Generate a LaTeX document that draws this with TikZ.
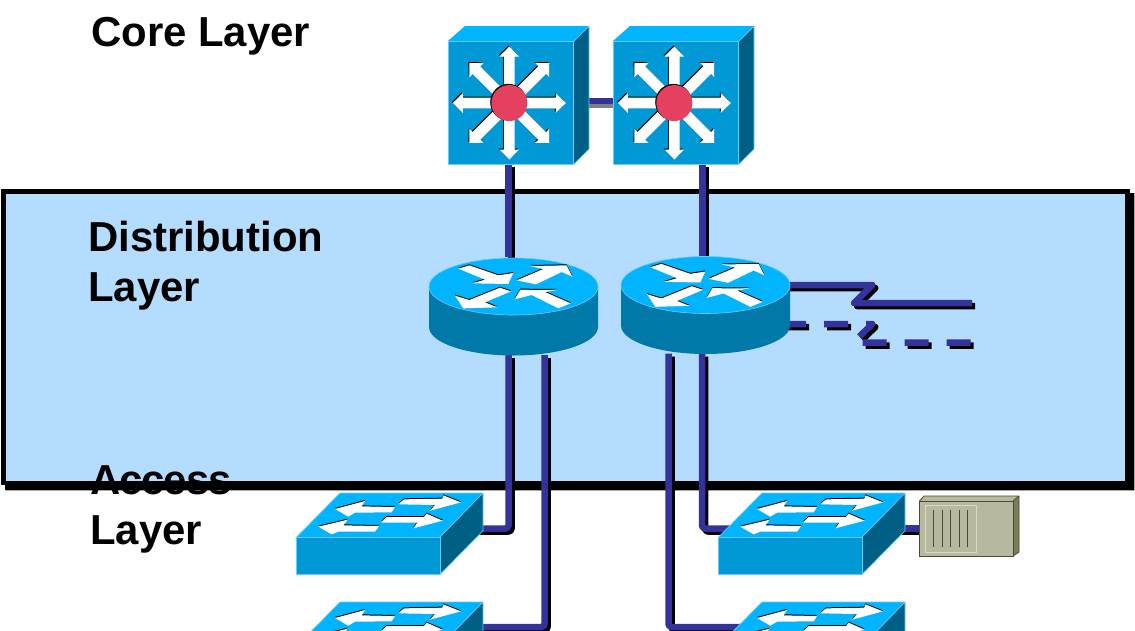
\documentclass[tikz,border=0pt]{standalone}
\usepackage{fontspec}
\setmainfont{Liberation Sans}
\definecolor{devtop}{HTML}{00B4FF}
\definecolor{devfront}{HTML}{0099D6}
\definecolor{devside}{HTML}{005F85}
\definecolor{devbody}{HTML}{0078A8}
\definecolor{devedge}{HTML}{66CCFF}
\definecolor{bandfill}{HTML}{B4DCFF}
\definecolor{linkblue}{HTML}{333399}
\definecolor{corered}{HTML}{E64060}
\definecolor{srvfront}{HTML}{B8B8A0}
\definecolor{srvside}{HTML}{7C7C58}
\definecolor{srvedge}{HTML}{4A4A30}
\definecolor{srvpanel}{HTML}{D8D8C8}
\tikzset{
  x=1pt,y=-1pt,
  linkbase/.style={line width=6.5pt,line join=round},
  dashlink/.style={dash pattern=on 24pt off 18pt,dash phase=3pt},
  bentlink/.style={rounded corners=3pt},
  layerlabel/.style={font=\fontsize{41.9}{50}\selectfont\bfseries,text=black,anchor=base west,inner sep=0pt,align=left},
  devbox/.style={minimum width=#1,inner sep=0pt,draw=none},
  faceedge/.style={draw=devedge,line width=0.7pt,line join=round},
}
% connector with a black drop shadow
\newcommand{\linkpath}[2]{%
  \draw[linkbase,#1,draw=black,transform canvas={xshift=3pt,yshift=-3pt}] #2;
  \draw[linkbase,#1,draw=linkblue] #2;}
% white arrow polygon with a thin black shadow above it
\newcommand{\shadedpoly}[1]{%
  \fill[black,transform canvas={yshift=1pt}] #1;
  \fill[white] #1;}
% core switch
\newcommand{\coreicon}[1]{%
\begin{scope}[shift={(#1,41)}]
  \fill[devtop] (0,0) -- (17,-15) -- (141,-15) -- (126,0) -- cycle;
  \fill[devside] (126,0) -- (141,-15) -- (141,108) -- (126,123) -- cycle;
  \filldraw[fill=devfront,faceedge] (0,0) rectangle (125.6,123);
  \draw[faceedge] (126,0) -- (141,-15) -- (141,108) -- (126,123);
  \begin{scope}[shift={(61.3,62)}]
    \foreach \a in {0,45,...,315}{
      \fill[black] [shift={(-0.9,-0.9)},rotate=\a] (-5.4,-14) -- (-5.4,-46.5) -- (-9.8,-46.5) -- (0,-56.5) -- (9.8,-46.5) -- (5.4,-46.5) -- (5.4,-14) -- cycle;
    }
    \foreach \a in {0,45,...,315}{
      \fill[white] [rotate=\a] (-5.4,-14) -- (-5.4,-46.5) -- (-9.8,-46.5) -- (0,-56.5) -- (9.8,-46.5) -- (5.4,-46.5) -- (5.4,-14) -- cycle;
    }
    \fill[black] (-0.8,-0.8) circle (18.3);
    \fill[corered] (0,0) circle (18);
  \end{scope}
\end{scope}}
% router
\newcommand{\routericon}[2]{%
\begin{scope}[shift={(513.5+#1,286.5+#2)}]
  \fill[devbody] (-84.5,0) -- (-84.5,40.5) arc[start angle=180,end angle=0,x radius=84.5,y radius=28.5] -- (84.5,0) -- cycle;
  \filldraw[fill=devtop,draw=devedge,line width=0.6pt] (0,0) ellipse[x radius=84.5,y radius=28.5];
  \begin{scope}[shift={(-103.5,-46.5)},x=0.3333pt,y=-0.3333pt]
    \shadedpoly{(145,86) -- (178,76) -- (265,106) -- (310,99) -- (295,132) -- (187,130) -- (225,119) -- cycle}
    \shadedpoly{(320,121) -- (400,87) -- (360,78) -- (470,76) -- (487,110) -- (455,96) -- (378,133) -- cycle}
    \shadedpoly{(270,143) -- (178,180) -- (135,167) -- (160,205) -- (262,202) -- (225,187) -- (303,154) -- cycle}
    \shadedpoly{(314,178) -- (331,149) -- (442,150) -- (405,156) -- (482,190) -- (445,205) -- (365,165) -- cycle}
  \end{scope}
\end{scope}}
% layer-2 switch
\newcommand{\switchicon}[2]{%
\begin{scope}[shift={(296.7+#1,537+#2)}]
  \fill[devtop] (0,0) -- (43.3,-44) -- (186.3,-44) -- (143.3,0) -- cycle;
  \fill[devside] (143.3,0) -- (186.3,-44) -- (186.3,-6.3) -- (143.3,37.5) -- cycle;
  \filldraw[fill=devfront,faceedge] (0,0) rectangle (143.3,37.5);
  \draw[faceedge] (143.3,0) -- (186.3,-44) -- (186.3,-6.3) -- (143.3,37.5);
  \draw[faceedge] (0,0) -- (43.3,-44) -- (186.3,-44);
  \begin{scope}[shift={(-16.7,-67)},x=0.3333pt,y=-0.3333pt]
    \shadedpoly{(165,117) -- (255,93) -- (245,109) -- (345,111) -- (335,127) -- (225,128) -- (205,140) -- cycle}
    \shadedpoly{(358,100) -- (372,88) -- (487,86) -- (490,76) -- (543,97) -- (450,122) -- (465,105) -- (358,103) -- cycle}
    \shadedpoly{(115,170) -- (203,149) -- (190,166) -- (298,168) -- (285,185) -- (175,185) -- (155,193) -- cycle}
    \shadedpoly{(305,155) -- (320,141) -- (432,141) -- (440,131) -- (488,152) -- (400,175) -- (412,158) -- (305,158) -- cycle}
  \end{scope}
\end{scope}}
\begin{document}
\begin{tikzpicture}[x=1pt,y=-1pt]
\clip (0,0) rectangle (1135,630);
\fill[white] (0,0) rectangle (1135,630);
% band
\fill[black!35] (6,193) rectangle (1134.7,490.7);
\fill[black] (5,193) rectangle (1134,490);
\fill[black] (1,189) rectangle (1130,485);
\fill[bandfill] (6,193.7) rectangle (1125,481);
% invisible device nodes
\node[devbox=126pt,minimum height=123pt] (core1) at (508.5,102.5) {};
\node[devbox=126pt,minimum height=123pt] (core2) at (676,102.5) {};
\node[devbox=169pt,minimum height=98pt] (dist1) at (513.5,306) {};
\node[devbox=169pt,minimum height=97pt] (dist2) at (705.5,305) {};
\node[devbox=186pt,minimum height=70pt] (acc1) at (390,528.5) {};
\node[devbox=186pt,minimum height=70pt] (acc2) at (390,627) {};
\node[devbox=186pt,minimum height=70pt] (acc3) at (812,528.5) {};
\node[devbox=186pt,minimum height=70pt] (acc4) at (812,627) {};
\node[devbox=100pt,minimum height=56pt] (srv) at (969,528.5) {};
\coordinate (wanA) at (972,303);
\coordinate (wanB) at (972,342.7);
% links
\draw[draw=gray,line width=4pt] ([yshift=-3.5pt]core1.east) -- ([yshift=-3.5pt]core2.west);
\draw[draw=linkblue,line width=6pt] ([yshift=1.5pt]core1.east) -- ([yshift=1.5pt]core2.west);
\linkpath{}{(core1.south) -- ([xshift=-5pt]dist1.north)}
\linkpath{}{([xshift=26.5pt]core2.south) -- ([xshift=-3pt]dist2.north)}
\linkpath{bentlink}{([xshift=-5pt]dist1.south) -- ([xshift=-5pt]dist1.south |- acc1.east) -- (acc1.center)}
\linkpath{bentlink}{([xshift=31pt]dist1.south) -- ([xshift=31pt]dist1.south |- acc2.east) -- (acc2.center)}
\linkpath{bentlink}{([xshift=-3.5pt]dist2.south) -- ([xshift=-3.5pt]dist2.south |- acc3.west) -- (acc3.center)}
\linkpath{bentlink}{([xshift=-37pt]dist2.south) -- ([xshift=-37pt]dist2.south |- acc4.west) -- (acc4.center)}
\linkpath{}{(acc3.center) -- (srv.center)}
\linkpath{}{([yshift=20pt,xshift=-5pt]dist2.east) -- ++(87,0) -- ++(-18,18) -- (wanA)}
\linkpath{dashlink}{([yshift=-19pt,xshift=-5pt]dist2.east) -- ++(87,0) -- ++(-19,18.7) -- (wanB)}
% devices
\coreicon{448}
\coreicon{613}
\routericon{0}{0}
\routericon{192}{-1.5}
\switchicon{0}{0}
\switchicon{0}{109}
\switchicon{422}{0}
\switchicon{422}{109}
% server
\begin{scope}
  \fill[srvside] (1013,501) -- (1019,496) -- (1019,552) -- (1013,556) -- cycle;
  \fill[srvfront] (919.5,501) -- (924,496) -- (1019,496) -- (1013,501) -- cycle;
  \filldraw[fill=srvfront,draw=srvedge,line width=0.8pt] (919.5,501) rectangle (1013,556);
  \draw[srvedge,line width=0.8pt,line join=round] (919.5,501) -- (924,496) -- (1019,496) -- (1019,552) -- (1013,556) (1019,496) -- (1013,501);
  \draw[srvpanel,line width=0.8pt] (925,505) rectangle (976,552);
  \foreach \xx in {933,942,950,959,967}{
    \draw[srvedge,line width=0.7pt] (\xx,510) -- (\xx,547);
  }
\end{scope}
% labels
\node[layerlabel] (lblcore) at (91,46) {Core Layer};
\node[layerlabel] (lbldist) at (88,251) {Distribution};
\node[layerlabel] (lbldist2) at (88,301) {Layer};
\node[layerlabel] (lblacc) at (90,494) {\addfontfeature{LetterSpace=-2.5}Access};
\node[layerlabel] (lblacc2) at (90,544) {Layer};
\end{tikzpicture}
\end{document}
